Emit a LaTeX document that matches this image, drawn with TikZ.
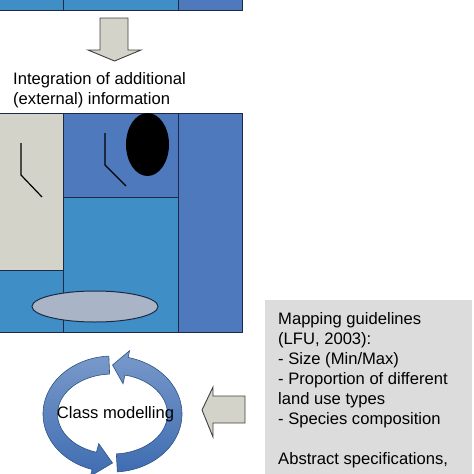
\documentclass[tikz,border=0pt]{standalone}
\usepackage{fontspec}
\setmainfont{Liberation Sans}
\usetikzlibrary{calc}

\definecolor{lightblue}{HTML}{3F8FC6}
\definecolor{darkblue}{HTML}{4E79BD}
\definecolor{beige}{HTML}{D3D3C9}
\definecolor{edge}{HTML}{1C2A48}
\definecolor{ringblue}{HTML}{3F6DB2}
\definecolor{boxgrey}{HTML}{DCDCDC}
\definecolor{ellgrey}{HTML}{A9B5C6}

\tikzset{
  patch/.style={draw=edge, line width=1pt},
  blockarrow/.style={draw=black!75, fill=beige, line width=0.9pt},
  cyclearrow/.style={draw=ringblue!75!black, line width=0.6pt, top color=ringblue!70!white, bottom color=ringblue},
  txt/.style={font=\fontsize{16.6}{20}\selectfont, inner sep=0pt},
}

\begin{document}
\begin{tikzpicture}[x=1pt, y=-1pt]
\useasboundingbox (0,0) rectangle (474,474);
\clip (0,0) rectangle (474,474);

% map before
\fill[lightblue] (-5,-5) rectangle (178,10);
\fill[darkblue] (178,-5) rectangle (242,10);
\draw[patch] (-5,10) -- (242,10) -- (242,-5);
\draw[patch] (63,-5) -- (63,10) (178,-5) -- (178,10);

% step down
\draw[blockarrow] (100,18) -- (128,18) -- (128,50) -- (141,50) -- (114.5,61) -- (88,50) -- (100,50) -- cycle;
\node[txt, anchor=base west] (integ1) at (13,84) {Integration of additional};
\node[txt, anchor=base west] (integ2) at (13,104) {(external) information};

% map after
\fill[beige] (-5,113) rectangle (63,270);
\fill[lightblue] (-5,270) rectangle (63,332);
\fill[darkblue] (63,113) rectangle (178,197);
\fill[lightblue] (63,197) rectangle (178,332);
\fill[darkblue] (178,113) rectangle (242,332);
\draw[patch] (-5,113) -- (242,113) -- (242,332) -- (-5,332);
\draw[patch] (63,113) -- (63,332) (178,113) -- (178,332) (-5,270) -- (63,270) (63,197) -- (178,197);
\fill (147.5,144.5) ellipse [x radius=21.5, y radius=31.5];
\draw[line width=1.2pt] (21,143) -- (21,175) -- (42,197);
\draw[line width=1.2pt] (105,133) -- (105,165) -- (126,186);
\draw[patch, fill=ellgrey] (95,306.5) ellipse [x radius=63, y radius=15.5];

% guidelines
\fill[boxgrey] (265,300) rectangle (472,480);
\foreach \i/\val in {0/Mapping guidelines, 1/{(LFU, 2003):}, 2/{- Size (Min/Max)}, 3/- Proportion of different, 4/land use types, 5/- Species composition, 7/{Abstract specifications,}} {
  \node[txt, anchor=base west] (guide\i) at (278,324+20*\i) {\val};
}
\draw[blockarrow] (202,410) -- (213,387) -- (213,396) -- (245,396) -- (245,423) -- (213,423) -- (213,437) -- cycle;

% class modelling cycle
\coordinate (ctr) at (112.5,414);
\draw[cyclearrow] ($(ctr)+(86:69.5 and 58)$) arc[start angle=86, end angle=-77, x radius=69.5, y radius=58]
  -- ($(ctr)+(-77:76 and 65)$) -- ($(ctr)+(-90:62 and 49)$) -- ($(ctr)+(-77:47 and 31)$)
  -- ($(ctr)+(-77:55 and 40)$) arc[start angle=-77, end angle=86, x radius=55, y radius=40] -- cycle;
\draw[cyclearrow] ($(ctr)+(267:69.5 and 58)$) arc[start angle=267, end angle=107, x radius=69.5, y radius=58]
  -- ($(ctr)+(107:76 and 65)$) -- ($(ctr)+(90:62 and 49)$) -- ($(ctr)+(107:47 and 31)$)
  -- ($(ctr)+(107:55 and 40)$) arc[start angle=107, end angle=267, x radius=55, y radius=40] -- cycle;
\node[txt, anchor=base] (model) at (115.5,418) {Class modelling};
\end{tikzpicture}
\end{document}
